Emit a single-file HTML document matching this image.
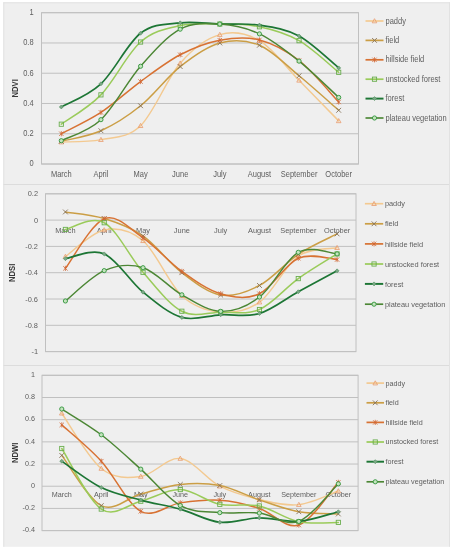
<!DOCTYPE html>
<html><head><meta charset="utf-8"><style>html,body{margin:0;padding:0;background:#fff;width:453px;height:550px;overflow:hidden}</style></head><body>
<div style="will-change:transform">
<svg width="453" height="550" viewBox="0 0 453 550" style="display:block">
<rect x="0" y="0" width="453" height="550" fill="#FFFFFF"/>
<rect x="3.3" y="2.3" width="446.7" height="544.5" fill="#EFEFEF"/>
<path d="M3.3,184.5 H450 M3.3,365.5 H450" stroke="#DCDCDC" stroke-width="1" fill="none"/>
<path d="M3.8,2.3 V546.8 M3.3,2.8 H450 M449.5,2.3 V546.8" stroke="#E2E2E2" stroke-width="1" fill="none"/>
<line x1="41.5" y1="12.70" x2="358.5" y2="12.70" stroke="#C0C0C0" stroke-width="1"/>
<text transform="translate(33.60,15.00) scale(0.915,1)" text-anchor="end" font-family='"Liberation Sans", sans-serif' font-size="8.2" fill="#5E5E5E" >1</text>
<line x1="41.5" y1="42.96" x2="358.5" y2="42.96" stroke="#C0C0C0" stroke-width="1"/>
<text transform="translate(33.60,45.26) scale(0.915,1)" text-anchor="end" font-family='"Liberation Sans", sans-serif' font-size="8.2" fill="#5E5E5E" >0.8</text>
<line x1="41.5" y1="73.22" x2="358.5" y2="73.22" stroke="#C0C0C0" stroke-width="1"/>
<text transform="translate(33.60,75.52) scale(0.915,1)" text-anchor="end" font-family='"Liberation Sans", sans-serif' font-size="8.2" fill="#5E5E5E" >0.6</text>
<line x1="41.5" y1="103.48" x2="358.5" y2="103.48" stroke="#C0C0C0" stroke-width="1"/>
<text transform="translate(33.60,105.78) scale(0.915,1)" text-anchor="end" font-family='"Liberation Sans", sans-serif' font-size="8.2" fill="#5E5E5E" >0.4</text>
<line x1="41.5" y1="133.74" x2="358.5" y2="133.74" stroke="#C0C0C0" stroke-width="1"/>
<text transform="translate(33.60,136.04) scale(0.915,1)" text-anchor="end" font-family='"Liberation Sans", sans-serif' font-size="8.2" fill="#5E5E5E" >0.2</text>
<line x1="41.5" y1="164.00" x2="358.5" y2="164.00" stroke="#C0C0C0" stroke-width="1"/>
<text transform="translate(33.60,166.30) scale(0.915,1)" text-anchor="end" font-family='"Liberation Sans", sans-serif' font-size="8.2" fill="#5E5E5E" >0</text>
<rect x="41.5" y="12.7" width="317.00" height="151.30" fill="none" stroke="#C0C0C0" stroke-width="1"/>
<text transform="translate(61.31,177.00) scale(0.915,1)" text-anchor="middle" font-family='"Liberation Sans", sans-serif' font-size="8.2" fill="#5E5E5E" >March</text>
<text transform="translate(100.94,177.00) scale(0.915,1)" text-anchor="middle" font-family='"Liberation Sans", sans-serif' font-size="8.2" fill="#5E5E5E" >April</text>
<text transform="translate(140.56,177.00) scale(0.915,1)" text-anchor="middle" font-family='"Liberation Sans", sans-serif' font-size="8.2" fill="#5E5E5E" >May</text>
<text transform="translate(180.19,177.00) scale(0.915,1)" text-anchor="middle" font-family='"Liberation Sans", sans-serif' font-size="8.2" fill="#5E5E5E" >June</text>
<text transform="translate(219.81,177.00) scale(0.915,1)" text-anchor="middle" font-family='"Liberation Sans", sans-serif' font-size="8.2" fill="#5E5E5E" >July</text>
<text transform="translate(259.44,177.00) scale(0.915,1)" text-anchor="middle" font-family='"Liberation Sans", sans-serif' font-size="8.2" fill="#5E5E5E" >August</text>
<text transform="translate(299.06,177.00) scale(0.915,1)" text-anchor="middle" font-family='"Liberation Sans", sans-serif' font-size="8.2" fill="#5E5E5E" >September</text>
<text transform="translate(338.69,177.00) scale(0.915,1)" text-anchor="middle" font-family='"Liberation Sans", sans-serif' font-size="8.2" fill="#5E5E5E" >October</text>
<text transform="translate(18.4,88.3) rotate(-90) scale(0.89,1)" text-anchor="middle" font-family='"Liberation Sans", sans-serif' font-size="8.6" font-weight="bold" fill="#383838">NDVI</text>
<path d="M61.31,142.06 C67.92,141.66 87.73,142.36 100.94,139.64 C114.15,136.92 127.35,138.46 140.56,125.72 C153.77,112.99 166.98,78.41 180.19,63.23 C193.40,48.05 206.60,38.40 219.81,34.64 C233.02,30.88 246.23,33.08 259.44,40.69 C272.65,48.31 285.85,66.97 299.06,80.33 C312.27,93.70 332.08,114.12 338.69,120.88" fill="none" stroke="#F3C990" stroke-width="1.45" stroke-linecap="round" stroke-linejoin="round"/>
<path d="M61.31,139.76 L63.61,143.86 L59.01,143.86 Z" fill="none" stroke="#E99A6C" stroke-width="0.8"/>
<path d="M100.94,137.34 L103.24,141.44 L98.64,141.44 Z" fill="none" stroke="#E99A6C" stroke-width="0.8"/>
<path d="M140.56,123.42 L142.86,127.52 L138.26,127.52 Z" fill="none" stroke="#E99A6C" stroke-width="0.8"/>
<path d="M180.19,60.93 L182.49,65.03 L177.89,65.03 Z" fill="none" stroke="#E99A6C" stroke-width="0.8"/>
<path d="M219.81,32.34 L222.11,36.44 L217.51,36.44 Z" fill="none" stroke="#E99A6C" stroke-width="0.8"/>
<path d="M259.44,38.39 L261.74,42.49 L257.14,42.49 Z" fill="none" stroke="#E99A6C" stroke-width="0.8"/>
<path d="M299.06,78.03 L301.36,82.13 L296.76,82.13 Z" fill="none" stroke="#E99A6C" stroke-width="0.8"/>
<path d="M338.69,118.58 L340.99,122.68 L336.39,122.68 Z" fill="none" stroke="#E99A6C" stroke-width="0.8"/>
<path d="M61.31,141.31 C67.92,139.54 87.73,136.64 100.94,130.71 C114.15,124.79 127.35,116.44 140.56,105.75 C153.77,95.06 166.98,77.03 180.19,66.56 C193.40,56.10 206.60,46.52 219.81,42.96 C233.02,39.40 246.23,39.76 259.44,45.23 C272.65,50.70 285.85,64.95 299.06,75.79 C312.27,86.64 332.08,104.54 338.69,110.29" fill="none" stroke="#CB9E45" stroke-width="1.5" stroke-linecap="round" stroke-linejoin="round"/>
<path d="M58.91,138.91 L63.71,143.71 M63.71,138.91 L58.91,143.71" stroke="#857258" stroke-width="0.9"/>
<path d="M98.54,128.31 L103.34,133.11 M103.34,128.31 L98.54,133.11" stroke="#857258" stroke-width="0.9"/>
<path d="M138.16,103.35 L142.96,108.15 M142.96,103.35 L138.16,108.15" stroke="#857258" stroke-width="0.9"/>
<path d="M177.79,64.16 L182.59,68.96 M182.59,64.16 L177.79,68.96" stroke="#857258" stroke-width="0.9"/>
<path d="M217.41,40.56 L222.21,45.36 M222.21,40.56 L217.41,45.36" stroke="#857258" stroke-width="0.9"/>
<path d="M257.04,42.83 L261.84,47.63 M261.84,42.83 L257.04,47.63" stroke="#857258" stroke-width="0.9"/>
<path d="M296.66,73.39 L301.46,78.19 M301.46,73.39 L296.66,78.19" stroke="#857258" stroke-width="0.9"/>
<path d="M336.29,107.89 L341.09,112.69 M341.09,107.89 L336.29,112.69" stroke="#857258" stroke-width="0.9"/>
<path d="M61.31,133.74 C67.92,130.18 87.73,121.11 100.94,112.41 C114.15,103.71 127.35,91.15 140.56,81.54 C153.77,71.93 166.98,61.65 180.19,54.76 C193.40,47.88 206.60,42.71 219.81,40.24 C233.02,37.77 246.23,36.55 259.44,39.93 C272.65,43.31 285.85,50.17 299.06,60.51 C312.27,70.85 332.08,95.06 338.69,101.97" fill="none" stroke="#D87233" stroke-width="1.5" stroke-linecap="round" stroke-linejoin="round"/>
<path d="M59.11,131.54 L63.51,135.94 M63.51,131.54 L59.11,135.94 M61.31,131.14 L61.31,136.34" stroke="#D06633" stroke-width="0.8"/>
<path d="M98.74,110.21 L103.14,114.61 M103.14,110.21 L98.74,114.61 M100.94,109.81 L100.94,115.01" stroke="#D06633" stroke-width="0.8"/>
<path d="M138.36,79.34 L142.76,83.74 M142.76,79.34 L138.36,83.74 M140.56,78.94 L140.56,84.14" stroke="#D06633" stroke-width="0.8"/>
<path d="M177.99,52.56 L182.39,56.96 M182.39,52.56 L177.99,56.96 M180.19,52.16 L180.19,57.36" stroke="#D06633" stroke-width="0.8"/>
<path d="M217.61,38.04 L222.01,42.44 M222.01,38.04 L217.61,42.44 M219.81,37.64 L219.81,42.84" stroke="#D06633" stroke-width="0.8"/>
<path d="M257.24,37.73 L261.64,42.13 M261.64,37.73 L257.24,42.13 M259.44,37.33 L259.44,42.53" stroke="#D06633" stroke-width="0.8"/>
<path d="M296.86,58.31 L301.26,62.71 M301.26,58.31 L296.86,62.71 M299.06,57.91 L299.06,63.11" stroke="#D06633" stroke-width="0.8"/>
<path d="M336.49,99.77 L340.89,104.17 M340.89,99.77 L336.49,104.17 M338.69,99.37 L338.69,104.57" stroke="#D06633" stroke-width="0.8"/>
<path d="M61.31,124.21 C67.92,119.32 87.73,108.55 100.94,94.86 C114.15,81.16 127.35,53.60 140.56,42.05 C153.77,30.50 166.98,28.56 180.19,25.56 C193.40,22.56 206.60,23.85 219.81,24.05 C233.02,24.25 246.23,24.00 259.44,26.77 C272.65,29.54 285.85,33.10 299.06,40.69 C312.27,48.28 332.08,67.04 338.69,72.31" fill="none" stroke="#9ACB5A" stroke-width="1.5" stroke-linecap="round" stroke-linejoin="round"/>
<rect x="59.21" y="122.11" width="4.2" height="4.2" fill="none" stroke="#6AAE4E" stroke-width="0.9"/>
<rect x="98.84" y="92.76" width="4.2" height="4.2" fill="none" stroke="#6AAE4E" stroke-width="0.9"/>
<rect x="138.46" y="39.95" width="4.2" height="4.2" fill="none" stroke="#6AAE4E" stroke-width="0.9"/>
<rect x="178.09" y="23.46" width="4.2" height="4.2" fill="none" stroke="#6AAE4E" stroke-width="0.9"/>
<rect x="217.71" y="21.95" width="4.2" height="4.2" fill="none" stroke="#6AAE4E" stroke-width="0.9"/>
<rect x="257.34" y="24.67" width="4.2" height="4.2" fill="none" stroke="#6AAE4E" stroke-width="0.9"/>
<rect x="296.96" y="38.59" width="4.2" height="4.2" fill="none" stroke="#6AAE4E" stroke-width="0.9"/>
<rect x="336.59" y="70.21" width="4.2" height="4.2" fill="none" stroke="#6AAE4E" stroke-width="0.9"/>
<path d="M61.31,106.96 C67.92,103.10 87.73,96.09 100.94,83.81 C114.15,71.53 127.35,43.44 140.56,33.28 C153.77,23.11 166.98,24.38 180.19,22.84 C193.40,21.30 206.60,23.67 219.81,24.05 C233.02,24.43 246.23,23.11 259.44,25.11 C272.65,27.10 285.85,28.86 299.06,36.00 C312.27,43.14 332.08,62.60 338.69,67.92" fill="none" stroke="#1D7635" stroke-width="1.7" stroke-linecap="round" stroke-linejoin="round"/>
<path d="M61.31,104.96 L63.31,106.96 L61.31,108.96 L59.31,106.96 Z" fill="#7BA886" stroke="#4F8F5E" stroke-width="0.6"/>
<path d="M100.94,81.81 L102.94,83.81 L100.94,85.81 L98.94,83.81 Z" fill="#7BA886" stroke="#4F8F5E" stroke-width="0.6"/>
<path d="M140.56,31.28 L142.56,33.28 L140.56,35.28 L138.56,33.28 Z" fill="#7BA886" stroke="#4F8F5E" stroke-width="0.6"/>
<path d="M180.19,20.84 L182.19,22.84 L180.19,24.84 L178.19,22.84 Z" fill="#7BA886" stroke="#4F8F5E" stroke-width="0.6"/>
<path d="M219.81,22.05 L221.81,24.05 L219.81,26.05 L217.81,24.05 Z" fill="#7BA886" stroke="#4F8F5E" stroke-width="0.6"/>
<path d="M259.44,23.11 L261.44,25.11 L259.44,27.11 L257.44,25.11 Z" fill="#7BA886" stroke="#4F8F5E" stroke-width="0.6"/>
<path d="M299.06,34.00 L301.06,36.00 L299.06,38.00 L297.06,36.00 Z" fill="#7BA886" stroke="#4F8F5E" stroke-width="0.6"/>
<path d="M338.69,65.92 L340.69,67.92 L338.69,69.92 L336.69,67.92 Z" fill="#7BA886" stroke="#4F8F5E" stroke-width="0.6"/>
<path d="M61.31,140.70 C67.92,137.19 87.73,132.08 100.94,119.67 C114.15,107.26 127.35,81.34 140.56,66.26 C153.77,51.18 166.98,36.23 180.19,29.19 C193.40,22.16 206.60,23.27 219.81,24.05 C233.02,24.83 246.23,27.70 259.44,33.88 C272.65,40.06 285.85,50.52 299.06,61.12 C312.27,71.71 332.08,91.38 338.69,97.43" fill="none" stroke="#4C8735" stroke-width="1.45" stroke-linecap="round" stroke-linejoin="round"/>
<circle cx="61.31" cy="140.70" r="2.1" fill="#C5E3BE" stroke="#2F943A" stroke-width="0.9"/>
<circle cx="100.94" cy="119.67" r="2.1" fill="#C5E3BE" stroke="#2F943A" stroke-width="0.9"/>
<circle cx="140.56" cy="66.26" r="2.1" fill="#C5E3BE" stroke="#2F943A" stroke-width="0.9"/>
<circle cx="180.19" cy="29.19" r="2.1" fill="#C5E3BE" stroke="#2F943A" stroke-width="0.9"/>
<circle cx="219.81" cy="24.05" r="2.1" fill="#C5E3BE" stroke="#2F943A" stroke-width="0.9"/>
<circle cx="259.44" cy="33.88" r="2.1" fill="#C5E3BE" stroke="#2F943A" stroke-width="0.9"/>
<circle cx="299.06" cy="61.12" r="2.1" fill="#C5E3BE" stroke="#2F943A" stroke-width="0.9"/>
<circle cx="338.69" cy="97.43" r="2.1" fill="#C5E3BE" stroke="#2F943A" stroke-width="0.9"/>
<line x1="365.5" y1="21" x2="383.5" y2="21" stroke="#F3C990" stroke-width="1.67"/>
<g transform="translate(0,0)"><path d="M374.50,18.70 L376.80,22.80 L372.20,22.80 Z" fill="none" stroke="#E99A6C" stroke-width="0.8"/></g>
<text transform="translate(385.50,23.50) scale(0.915,1)" text-anchor="start" font-family='"Liberation Sans", sans-serif' font-size="8.2" fill="#5E5E5E" >paddy</text>
<line x1="365.5" y1="40.4" x2="383.5" y2="40.4" stroke="#CB9E45" stroke-width="1.72"/>
<g transform="translate(0,0)"><path d="M372.10,38.00 L376.90,42.80 M376.90,38.00 L372.10,42.80" stroke="#857258" stroke-width="0.9"/></g>
<text transform="translate(385.50,42.90) scale(0.915,1)" text-anchor="start" font-family='"Liberation Sans", sans-serif' font-size="8.2" fill="#5E5E5E" >field</text>
<line x1="365.5" y1="59.8" x2="383.5" y2="59.8" stroke="#D87233" stroke-width="1.72"/>
<g transform="translate(0,0)"><path d="M372.30,57.60 L376.70,62.00 M376.70,57.60 L372.30,62.00 M374.50,57.20 L374.50,62.40" stroke="#D06633" stroke-width="0.8"/></g>
<text transform="translate(385.50,62.30) scale(0.915,1)" text-anchor="start" font-family='"Liberation Sans", sans-serif' font-size="8.2" fill="#5E5E5E" >hillside field</text>
<line x1="365.5" y1="79.2" x2="383.5" y2="79.2" stroke="#9ACB5A" stroke-width="1.72"/>
<g transform="translate(0,0)"><rect x="372.40" y="77.10" width="4.2" height="4.2" fill="none" stroke="#6AAE4E" stroke-width="0.9"/></g>
<text transform="translate(385.50,81.70) scale(0.915,1)" text-anchor="start" font-family='"Liberation Sans", sans-serif' font-size="8.2" fill="#5E5E5E" >unstocked forest</text>
<line x1="365.5" y1="98.6" x2="383.5" y2="98.6" stroke="#1D7635" stroke-width="1.95"/>
<g transform="translate(0,0)"><path d="M374.50,96.60 L376.50,98.60 L374.50,100.60 L372.50,98.60 Z" fill="#7BA886" stroke="#4F8F5E" stroke-width="0.6"/></g>
<text transform="translate(385.50,101.10) scale(0.915,1)" text-anchor="start" font-family='"Liberation Sans", sans-serif' font-size="8.2" fill="#5E5E5E" >forest</text>
<line x1="365.5" y1="118.0" x2="383.5" y2="118.0" stroke="#4C8735" stroke-width="1.67"/>
<g transform="translate(0,0)"><circle cx="374.50" cy="118.00" r="2.1" fill="#C5E3BE" stroke="#2F943A" stroke-width="0.9"/></g>
<text transform="translate(385.50,120.50) scale(0.915,1)" text-anchor="start" font-family='"Liberation Sans", sans-serif' font-size="8.2" fill="#5E5E5E" >plateau vegetation</text>
<line x1="45.5" y1="193.80" x2="356.0" y2="193.80" stroke="#C0C0C0" stroke-width="1"/>
<text transform="translate(38.00,196.40) scale(1.0,1)" text-anchor="end" font-family='"Liberation Sans", sans-serif' font-size="7.4" fill="#5E5E5E" >0.2</text>
<line x1="45.5" y1="220.10" x2="356.0" y2="220.10" stroke="#C0C0C0" stroke-width="1"/>
<text transform="translate(38.00,222.70) scale(1.0,1)" text-anchor="end" font-family='"Liberation Sans", sans-serif' font-size="7.4" fill="#5E5E5E" >0</text>
<line x1="45.5" y1="246.40" x2="356.0" y2="246.40" stroke="#C0C0C0" stroke-width="1"/>
<text transform="translate(38.00,249.00) scale(1.0,1)" text-anchor="end" font-family='"Liberation Sans", sans-serif' font-size="7.4" fill="#5E5E5E" >-0.2</text>
<line x1="45.5" y1="272.70" x2="356.0" y2="272.70" stroke="#C0C0C0" stroke-width="1"/>
<text transform="translate(38.00,275.30) scale(1.0,1)" text-anchor="end" font-family='"Liberation Sans", sans-serif' font-size="7.4" fill="#5E5E5E" >-0.4</text>
<line x1="45.5" y1="299.00" x2="356.0" y2="299.00" stroke="#C0C0C0" stroke-width="1"/>
<text transform="translate(38.00,301.60) scale(1.0,1)" text-anchor="end" font-family='"Liberation Sans", sans-serif' font-size="7.4" fill="#5E5E5E" >-0.6</text>
<line x1="45.5" y1="325.30" x2="356.0" y2="325.30" stroke="#C0C0C0" stroke-width="1"/>
<text transform="translate(38.00,327.90) scale(1.0,1)" text-anchor="end" font-family='"Liberation Sans", sans-serif' font-size="7.4" fill="#5E5E5E" >-0.8</text>
<line x1="45.5" y1="351.60" x2="356.0" y2="351.60" stroke="#C0C0C0" stroke-width="1"/>
<text transform="translate(38.00,354.20) scale(1.0,1)" text-anchor="end" font-family='"Liberation Sans", sans-serif' font-size="7.4" fill="#5E5E5E" >-1</text>
<rect x="45.5" y="193.8" width="310.50" height="157.80" fill="none" stroke="#C0C0C0" stroke-width="1"/>
<text transform="translate(65.41,232.80) scale(1.0,1)" text-anchor="middle" font-family='"Liberation Sans", sans-serif' font-size="7.4" fill="#5E5E5E" >March</text>
<text transform="translate(104.22,232.80) scale(1.0,1)" text-anchor="middle" font-family='"Liberation Sans", sans-serif' font-size="7.4" fill="#5E5E5E" >April</text>
<text transform="translate(143.03,232.80) scale(1.0,1)" text-anchor="middle" font-family='"Liberation Sans", sans-serif' font-size="7.4" fill="#5E5E5E" >May</text>
<text transform="translate(181.84,232.80) scale(1.0,1)" text-anchor="middle" font-family='"Liberation Sans", sans-serif' font-size="7.4" fill="#5E5E5E" >June</text>
<text transform="translate(220.66,232.80) scale(1.0,1)" text-anchor="middle" font-family='"Liberation Sans", sans-serif' font-size="7.4" fill="#5E5E5E" >July</text>
<text transform="translate(259.47,232.80) scale(1.0,1)" text-anchor="middle" font-family='"Liberation Sans", sans-serif' font-size="7.4" fill="#5E5E5E" >August</text>
<text transform="translate(298.28,232.80) scale(1.0,1)" text-anchor="middle" font-family='"Liberation Sans", sans-serif' font-size="7.4" fill="#5E5E5E" >September</text>
<text transform="translate(337.09,232.80) scale(1.0,1)" text-anchor="middle" font-family='"Liberation Sans", sans-serif' font-size="7.4" fill="#5E5E5E" >October</text>
<text transform="translate(14.9,272.8) rotate(-90) scale(0.89,1)" text-anchor="middle" font-family='"Liberation Sans", sans-serif' font-size="8.6" font-weight="bold" fill="#383838">NDSI</text>
<path d="M65.41,256.53 C71.88,252.10 91.28,232.59 104.22,229.96 C117.16,227.33 130.09,229.79 143.03,240.75 C155.97,251.70 168.91,283.81 181.84,295.71 C194.78,307.61 207.72,311.08 220.66,312.15 C233.59,313.22 246.53,311.47 259.47,302.16 C272.41,292.84 285.34,265.34 298.28,256.26 C311.22,247.19 330.62,249.14 337.09,247.72" fill="none" stroke="#F3C990" stroke-width="1.45" stroke-linecap="round" stroke-linejoin="round"/>
<path d="M65.41,254.23 L67.71,258.33 L63.11,258.33 Z" fill="none" stroke="#E99A6C" stroke-width="0.8"/>
<path d="M104.22,227.66 L106.52,231.76 L101.92,231.76 Z" fill="none" stroke="#E99A6C" stroke-width="0.8"/>
<path d="M143.03,238.45 L145.33,242.55 L140.73,242.55 Z" fill="none" stroke="#E99A6C" stroke-width="0.8"/>
<path d="M181.84,293.41 L184.14,297.51 L179.54,297.51 Z" fill="none" stroke="#E99A6C" stroke-width="0.8"/>
<path d="M220.66,309.85 L222.96,313.95 L218.36,313.95 Z" fill="none" stroke="#E99A6C" stroke-width="0.8"/>
<path d="M259.47,299.86 L261.77,303.96 L257.17,303.96 Z" fill="none" stroke="#E99A6C" stroke-width="0.8"/>
<path d="M298.28,253.96 L300.58,258.06 L295.98,258.06 Z" fill="none" stroke="#E99A6C" stroke-width="0.8"/>
<path d="M337.09,245.42 L339.39,249.52 L334.79,249.52 Z" fill="none" stroke="#E99A6C" stroke-width="0.8"/>
<path d="M65.41,211.95 C71.88,213.04 91.28,214.53 104.22,218.52 C117.16,222.51 130.09,226.85 143.03,235.88 C155.97,244.91 168.91,262.84 181.84,272.70 C194.78,282.56 207.72,292.93 220.66,295.06 C233.59,297.18 246.53,292.25 259.47,285.46 C272.41,278.66 285.34,262.88 298.28,254.29 C311.22,245.70 330.62,237.30 337.09,233.91" fill="none" stroke="#CB9E45" stroke-width="1.5" stroke-linecap="round" stroke-linejoin="round"/>
<path d="M63.01,209.55 L67.81,214.35 M67.81,209.55 L63.01,214.35" stroke="#857258" stroke-width="0.9"/>
<path d="M101.82,216.12 L106.62,220.92 M106.62,216.12 L101.82,220.92" stroke="#857258" stroke-width="0.9"/>
<path d="M140.63,233.48 L145.43,238.28 M145.43,233.48 L140.63,238.28" stroke="#857258" stroke-width="0.9"/>
<path d="M179.44,270.30 L184.24,275.10 M184.24,270.30 L179.44,275.10" stroke="#857258" stroke-width="0.9"/>
<path d="M218.26,292.66 L223.06,297.45 M223.06,292.66 L218.26,297.45" stroke="#857258" stroke-width="0.9"/>
<path d="M257.07,283.06 L261.87,287.86 M261.87,283.06 L257.07,287.86" stroke="#857258" stroke-width="0.9"/>
<path d="M295.88,251.89 L300.68,256.69 M300.68,251.89 L295.88,256.69" stroke="#857258" stroke-width="0.9"/>
<path d="M334.69,231.51 L339.49,236.31 M339.49,231.51 L334.69,236.31" stroke="#857258" stroke-width="0.9"/>
<path d="M65.41,268.36 C71.88,260.10 91.28,223.87 104.22,218.79 C117.16,213.70 130.09,229.09 143.03,237.85 C155.97,246.62 168.91,262.07 181.84,271.39 C194.78,280.70 207.72,290.01 220.66,293.74 C233.59,297.47 246.53,299.66 259.47,293.74 C272.41,287.82 285.34,263.93 298.28,258.24 C311.22,252.54 330.62,259.33 337.09,259.55" fill="none" stroke="#D87233" stroke-width="1.5" stroke-linecap="round" stroke-linejoin="round"/>
<path d="M63.21,266.16 L67.61,270.56 M67.61,266.16 L63.21,270.56 M65.41,265.76 L65.41,270.96" stroke="#D06633" stroke-width="0.8"/>
<path d="M102.02,216.59 L106.42,220.99 M106.42,216.59 L102.02,220.99 M104.22,216.19 L104.22,221.39" stroke="#D06633" stroke-width="0.8"/>
<path d="M140.83,235.65 L145.23,240.05 M145.23,235.65 L140.83,240.05 M143.03,235.25 L143.03,240.45" stroke="#D06633" stroke-width="0.8"/>
<path d="M179.64,269.19 L184.04,273.59 M184.04,269.19 L179.64,273.59 M181.84,268.79 L181.84,273.99" stroke="#D06633" stroke-width="0.8"/>
<path d="M218.46,291.54 L222.86,295.94 M222.86,291.54 L218.46,295.94 M220.66,291.14 L220.66,296.34" stroke="#D06633" stroke-width="0.8"/>
<path d="M257.27,291.54 L261.67,295.94 M261.67,291.54 L257.27,295.94 M259.47,291.14 L259.47,296.34" stroke="#D06633" stroke-width="0.8"/>
<path d="M296.08,256.04 L300.48,260.44 M300.48,256.04 L296.08,260.44 M298.28,255.64 L298.28,260.84" stroke="#D06633" stroke-width="0.8"/>
<path d="M334.89,257.35 L339.29,261.75 M339.29,257.35 L334.89,261.75 M337.09,256.95 L337.09,262.15" stroke="#D06633" stroke-width="0.8"/>
<path d="M65.41,229.44 C71.88,228.32 91.28,215.59 104.22,222.73 C117.16,229.87 130.09,257.56 143.03,272.31 C155.97,287.06 168.91,304.59 181.84,311.23 C194.78,317.87 207.72,312.43 220.66,312.15 C233.59,311.87 246.53,315.11 259.47,309.52 C272.41,303.93 285.34,287.89 298.28,278.62 C311.22,269.35 330.62,258.02 337.09,253.90" fill="none" stroke="#9ACB5A" stroke-width="1.5" stroke-linecap="round" stroke-linejoin="round"/>
<rect x="63.31" y="227.34" width="4.2" height="4.2" fill="none" stroke="#6AAE4E" stroke-width="0.9"/>
<rect x="102.12" y="220.63" width="4.2" height="4.2" fill="none" stroke="#6AAE4E" stroke-width="0.9"/>
<rect x="140.93" y="270.21" width="4.2" height="4.2" fill="none" stroke="#6AAE4E" stroke-width="0.9"/>
<rect x="179.74" y="309.13" width="4.2" height="4.2" fill="none" stroke="#6AAE4E" stroke-width="0.9"/>
<rect x="218.56" y="310.05" width="4.2" height="4.2" fill="none" stroke="#6AAE4E" stroke-width="0.9"/>
<rect x="257.37" y="307.42" width="4.2" height="4.2" fill="none" stroke="#6AAE4E" stroke-width="0.9"/>
<rect x="296.18" y="276.52" width="4.2" height="4.2" fill="none" stroke="#6AAE4E" stroke-width="0.9"/>
<rect x="334.99" y="251.80" width="4.2" height="4.2" fill="none" stroke="#6AAE4E" stroke-width="0.9"/>
<path d="M65.41,258.63 C71.88,257.84 91.28,248.31 104.22,253.90 C117.16,259.48 130.09,281.58 143.03,292.16 C155.97,302.75 168.91,313.64 181.84,317.41 C194.78,321.18 207.72,315.44 220.66,314.78 C233.59,314.12 246.53,317.30 259.47,313.47 C272.41,309.63 285.34,298.87 298.28,291.77 C311.22,284.67 330.62,274.34 337.09,270.86" fill="none" stroke="#1D7635" stroke-width="1.7" stroke-linecap="round" stroke-linejoin="round"/>
<path d="M65.41,256.63 L67.41,258.63 L65.41,260.63 L63.41,258.63 Z" fill="#7BA886" stroke="#4F8F5E" stroke-width="0.6"/>
<path d="M104.22,251.90 L106.22,253.90 L104.22,255.90 L102.22,253.90 Z" fill="#7BA886" stroke="#4F8F5E" stroke-width="0.6"/>
<path d="M143.03,290.16 L145.03,292.16 L143.03,294.16 L141.03,292.16 Z" fill="#7BA886" stroke="#4F8F5E" stroke-width="0.6"/>
<path d="M181.84,315.41 L183.84,317.41 L181.84,319.41 L179.84,317.41 Z" fill="#7BA886" stroke="#4F8F5E" stroke-width="0.6"/>
<path d="M220.66,312.78 L222.66,314.78 L220.66,316.78 L218.66,314.78 Z" fill="#7BA886" stroke="#4F8F5E" stroke-width="0.6"/>
<path d="M259.47,311.47 L261.47,313.47 L259.47,315.47 L257.47,313.47 Z" fill="#7BA886" stroke="#4F8F5E" stroke-width="0.6"/>
<path d="M298.28,289.77 L300.28,291.77 L298.28,293.77 L296.28,291.77 Z" fill="#7BA886" stroke="#4F8F5E" stroke-width="0.6"/>
<path d="M337.09,268.86 L339.09,270.86 L337.09,272.86 L335.09,270.86 Z" fill="#7BA886" stroke="#4F8F5E" stroke-width="0.6"/>
<path d="M65.41,300.97 C71.88,295.91 91.28,276.14 104.22,270.60 C117.16,265.05 130.09,263.67 143.03,267.70 C155.97,271.74 168.91,287.52 181.84,294.79 C194.78,302.07 207.72,310.99 220.66,311.36 C233.59,311.73 246.53,306.87 259.47,297.03 C272.41,287.19 285.34,259.51 298.28,252.32 C311.22,245.13 330.62,253.63 337.09,253.90" fill="none" stroke="#4C8735" stroke-width="1.45" stroke-linecap="round" stroke-linejoin="round"/>
<circle cx="65.41" cy="300.97" r="2.1" fill="#C5E3BE" stroke="#2F943A" stroke-width="0.9"/>
<circle cx="104.22" cy="270.60" r="2.1" fill="#C5E3BE" stroke="#2F943A" stroke-width="0.9"/>
<circle cx="143.03" cy="267.70" r="2.1" fill="#C5E3BE" stroke="#2F943A" stroke-width="0.9"/>
<circle cx="181.84" cy="294.79" r="2.1" fill="#C5E3BE" stroke="#2F943A" stroke-width="0.9"/>
<circle cx="220.66" cy="311.36" r="2.1" fill="#C5E3BE" stroke="#2F943A" stroke-width="0.9"/>
<circle cx="259.47" cy="297.03" r="2.1" fill="#C5E3BE" stroke="#2F943A" stroke-width="0.9"/>
<circle cx="298.28" cy="252.32" r="2.1" fill="#C5E3BE" stroke="#2F943A" stroke-width="0.9"/>
<circle cx="337.09" cy="253.90" r="2.1" fill="#C5E3BE" stroke="#2F943A" stroke-width="0.9"/>
<line x1="364.9" y1="203.7" x2="383.2" y2="203.7" stroke="#F3C990" stroke-width="1.67"/>
<g transform="translate(0,0)"><path d="M374.05,201.40 L376.35,205.50 L371.75,205.50 Z" fill="none" stroke="#E99A6C" stroke-width="0.8"/></g>
<text transform="translate(384.90,206.30) scale(1.0,1)" text-anchor="start" font-family='"Liberation Sans", sans-serif' font-size="7.4" fill="#5E5E5E" >paddy</text>
<line x1="364.9" y1="223.8" x2="383.2" y2="223.8" stroke="#CB9E45" stroke-width="1.72"/>
<g transform="translate(0,0)"><path d="M371.65,221.40 L376.45,226.20 M376.45,221.40 L371.65,226.20" stroke="#857258" stroke-width="0.9"/></g>
<text transform="translate(384.90,226.40) scale(1.0,1)" text-anchor="start" font-family='"Liberation Sans", sans-serif' font-size="7.4" fill="#5E5E5E" >field</text>
<line x1="364.9" y1="243.9" x2="383.2" y2="243.9" stroke="#D87233" stroke-width="1.72"/>
<g transform="translate(0,0)"><path d="M371.85,241.70 L376.25,246.10 M376.25,241.70 L371.85,246.10 M374.05,241.30 L374.05,246.50" stroke="#D06633" stroke-width="0.8"/></g>
<text transform="translate(384.90,246.50) scale(1.0,1)" text-anchor="start" font-family='"Liberation Sans", sans-serif' font-size="7.4" fill="#5E5E5E" >hillside field</text>
<line x1="364.9" y1="264.0" x2="383.2" y2="264.0" stroke="#9ACB5A" stroke-width="1.72"/>
<g transform="translate(0,0)"><rect x="371.95" y="261.90" width="4.2" height="4.2" fill="none" stroke="#6AAE4E" stroke-width="0.9"/></g>
<text transform="translate(384.90,266.60) scale(1.0,1)" text-anchor="start" font-family='"Liberation Sans", sans-serif' font-size="7.4" fill="#5E5E5E" >unstocked forest</text>
<line x1="364.9" y1="283.9" x2="383.2" y2="283.9" stroke="#1D7635" stroke-width="1.95"/>
<g transform="translate(0,0)"><path d="M374.05,281.90 L376.05,283.90 L374.05,285.90 L372.05,283.90 Z" fill="#7BA886" stroke="#4F8F5E" stroke-width="0.6"/></g>
<text transform="translate(384.90,286.50) scale(1.0,1)" text-anchor="start" font-family='"Liberation Sans", sans-serif' font-size="7.4" fill="#5E5E5E" >forest</text>
<line x1="364.9" y1="304.2" x2="383.2" y2="304.2" stroke="#4C8735" stroke-width="1.67"/>
<g transform="translate(0,0)"><circle cx="374.05" cy="304.20" r="2.1" fill="#C5E3BE" stroke="#2F943A" stroke-width="0.9"/></g>
<text transform="translate(384.90,306.80) scale(1.0,1)" text-anchor="start" font-family='"Liberation Sans", sans-serif' font-size="7.4" fill="#5E5E5E" >plateau vegetation</text>
<line x1="42.0" y1="375.30" x2="358.1" y2="375.30" stroke="#C0C0C0" stroke-width="1"/>
<text transform="translate(34.90,377.00) scale(1.03,1)" text-anchor="end" font-family='"Liberation Sans", sans-serif' font-size="7.0" fill="#5E5E5E" >1</text>
<line x1="42.0" y1="397.49" x2="358.1" y2="397.49" stroke="#C0C0C0" stroke-width="1"/>
<text transform="translate(34.90,399.19) scale(1.03,1)" text-anchor="end" font-family='"Liberation Sans", sans-serif' font-size="7.0" fill="#5E5E5E" >0.8</text>
<line x1="42.0" y1="419.67" x2="358.1" y2="419.67" stroke="#C0C0C0" stroke-width="1"/>
<text transform="translate(34.90,421.37) scale(1.03,1)" text-anchor="end" font-family='"Liberation Sans", sans-serif' font-size="7.0" fill="#5E5E5E" >0.6</text>
<line x1="42.0" y1="441.86" x2="358.1" y2="441.86" stroke="#C0C0C0" stroke-width="1"/>
<text transform="translate(34.90,443.56) scale(1.03,1)" text-anchor="end" font-family='"Liberation Sans", sans-serif' font-size="7.0" fill="#5E5E5E" >0.4</text>
<line x1="42.0" y1="464.04" x2="358.1" y2="464.04" stroke="#C0C0C0" stroke-width="1"/>
<text transform="translate(34.90,465.74) scale(1.03,1)" text-anchor="end" font-family='"Liberation Sans", sans-serif' font-size="7.0" fill="#5E5E5E" >0.2</text>
<line x1="42.0" y1="486.23" x2="358.1" y2="486.23" stroke="#C0C0C0" stroke-width="1"/>
<text transform="translate(34.90,487.93) scale(1.03,1)" text-anchor="end" font-family='"Liberation Sans", sans-serif' font-size="7.0" fill="#5E5E5E" >0</text>
<line x1="42.0" y1="508.41" x2="358.1" y2="508.41" stroke="#C0C0C0" stroke-width="1"/>
<text transform="translate(34.90,510.11) scale(1.03,1)" text-anchor="end" font-family='"Liberation Sans", sans-serif' font-size="7.0" fill="#5E5E5E" >-0.2</text>
<line x1="42.0" y1="530.60" x2="358.1" y2="530.60" stroke="#C0C0C0" stroke-width="1"/>
<text transform="translate(34.90,532.30) scale(1.03,1)" text-anchor="end" font-family='"Liberation Sans", sans-serif' font-size="7.0" fill="#5E5E5E" >-0.4</text>
<rect x="42.0" y="375.3" width="316.10" height="155.30" fill="none" stroke="#C0C0C0" stroke-width="1"/>
<text transform="translate(61.76,496.60) scale(1.03,1)" text-anchor="middle" font-family='"Liberation Sans", sans-serif' font-size="7.0" fill="#5E5E5E" >March</text>
<text transform="translate(101.27,496.60) scale(1.03,1)" text-anchor="middle" font-family='"Liberation Sans", sans-serif' font-size="7.0" fill="#5E5E5E" >April</text>
<text transform="translate(140.78,496.60) scale(1.03,1)" text-anchor="middle" font-family='"Liberation Sans", sans-serif' font-size="7.0" fill="#5E5E5E" >May</text>
<text transform="translate(180.29,496.60) scale(1.03,1)" text-anchor="middle" font-family='"Liberation Sans", sans-serif' font-size="7.0" fill="#5E5E5E" >June</text>
<text transform="translate(219.81,496.60) scale(1.03,1)" text-anchor="middle" font-family='"Liberation Sans", sans-serif' font-size="7.0" fill="#5E5E5E" >July</text>
<text transform="translate(259.32,496.60) scale(1.03,1)" text-anchor="middle" font-family='"Liberation Sans", sans-serif' font-size="7.0" fill="#5E5E5E" >August</text>
<text transform="translate(298.83,496.60) scale(1.03,1)" text-anchor="middle" font-family='"Liberation Sans", sans-serif' font-size="7.0" fill="#5E5E5E" >September</text>
<text transform="translate(338.34,496.60) scale(1.03,1)" text-anchor="middle" font-family='"Liberation Sans", sans-serif' font-size="7.0" fill="#5E5E5E" >October</text>
<text transform="translate(18.2,452.8) rotate(-90) scale(0.89,1)" text-anchor="middle" font-family='"Liberation Sans", sans-serif' font-size="8.6" font-weight="bold" fill="#383838">NDWI</text>
<path d="M61.76,413.24 C68.34,422.44 88.10,457.94 101.27,468.48 C114.44,479.02 127.61,478.13 140.78,476.47 C153.95,474.80 167.12,456.87 180.29,458.50 C193.46,460.12 206.64,479.39 219.81,486.23 C232.98,493.07 246.15,496.47 259.32,499.54 C272.49,502.61 285.66,506.07 298.83,504.64 C312.00,503.22 331.76,493.27 338.34,491.00" fill="none" stroke="#F3C990" stroke-width="1.45" stroke-linecap="round" stroke-linejoin="round"/>
<path d="M61.76,410.94 L64.06,415.04 L59.46,415.04 Z" fill="none" stroke="#E99A6C" stroke-width="0.8"/>
<path d="M101.27,466.18 L103.57,470.28 L98.97,470.28 Z" fill="none" stroke="#E99A6C" stroke-width="0.8"/>
<path d="M140.78,474.17 L143.08,478.27 L138.48,478.27 Z" fill="none" stroke="#E99A6C" stroke-width="0.8"/>
<path d="M180.29,456.20 L182.59,460.30 L177.99,460.30 Z" fill="none" stroke="#E99A6C" stroke-width="0.8"/>
<path d="M219.81,483.93 L222.11,488.03 L217.51,488.03 Z" fill="none" stroke="#E99A6C" stroke-width="0.8"/>
<path d="M259.32,497.24 L261.62,501.34 L257.02,501.34 Z" fill="none" stroke="#E99A6C" stroke-width="0.8"/>
<path d="M298.83,502.34 L301.13,506.44 L296.53,506.44 Z" fill="none" stroke="#E99A6C" stroke-width="0.8"/>
<path d="M338.34,488.70 L340.64,492.80 L336.04,492.80 Z" fill="none" stroke="#E99A6C" stroke-width="0.8"/>
<path d="M61.76,455.39 C68.34,463.77 88.10,499.21 101.27,505.64 C114.44,512.07 127.61,497.52 140.78,493.99 C153.95,490.46 167.12,485.86 180.29,484.45 C193.46,483.05 206.64,482.99 219.81,485.56 C232.98,488.13 246.15,495.51 259.32,499.87 C272.49,504.24 285.66,509.39 298.83,511.74 C312.00,514.09 331.76,513.59 338.34,513.96" fill="none" stroke="#CB9E45" stroke-width="1.5" stroke-linecap="round" stroke-linejoin="round"/>
<path d="M59.36,452.99 L64.16,457.79 M64.16,452.99 L59.36,457.79" stroke="#857258" stroke-width="0.9"/>
<path d="M98.87,503.24 L103.67,508.04 M103.67,503.24 L98.87,508.04" stroke="#857258" stroke-width="0.9"/>
<path d="M138.38,491.59 L143.18,496.39 M143.18,491.59 L138.38,496.39" stroke="#857258" stroke-width="0.9"/>
<path d="M177.89,482.05 L182.69,486.85 M182.69,482.05 L177.89,486.85" stroke="#857258" stroke-width="0.9"/>
<path d="M217.41,483.16 L222.21,487.96 M222.21,483.16 L217.41,487.96" stroke="#857258" stroke-width="0.9"/>
<path d="M256.92,497.47 L261.72,502.27 M261.72,497.47 L256.92,502.27" stroke="#857258" stroke-width="0.9"/>
<path d="M296.43,509.34 L301.23,514.14 M301.23,509.34 L296.43,514.14" stroke="#857258" stroke-width="0.9"/>
<path d="M335.94,511.56 L340.74,516.36 M340.74,511.56 L335.94,516.36" stroke="#857258" stroke-width="0.9"/>
<path d="M61.76,424.89 C68.34,430.93 88.10,446.76 101.27,461.16 C114.44,475.56 127.61,504.35 140.78,511.30 C153.95,518.25 167.12,504.72 180.29,502.87 C193.46,501.02 206.64,499.28 219.81,500.21 C232.98,501.13 246.15,504.27 259.32,508.41 C272.49,512.56 285.66,529.40 298.83,525.05 C312.00,520.71 331.76,489.46 338.34,482.35" fill="none" stroke="#D87233" stroke-width="1.5" stroke-linecap="round" stroke-linejoin="round"/>
<path d="M59.56,422.69 L63.96,427.09 M63.96,422.69 L59.56,427.09 M61.76,422.29 L61.76,427.49" stroke="#D06633" stroke-width="0.8"/>
<path d="M99.07,458.96 L103.47,463.36 M103.47,458.96 L99.07,463.36 M101.27,458.56 L101.27,463.76" stroke="#D06633" stroke-width="0.8"/>
<path d="M138.58,509.10 L142.98,513.50 M142.98,509.10 L138.58,513.50 M140.78,508.70 L140.78,513.90" stroke="#D06633" stroke-width="0.8"/>
<path d="M178.09,500.67 L182.49,505.07 M182.49,500.67 L178.09,505.07 M180.29,500.27 L180.29,505.47" stroke="#D06633" stroke-width="0.8"/>
<path d="M217.61,498.01 L222.01,502.41 M222.01,498.01 L217.61,502.41 M219.81,497.61 L219.81,502.81" stroke="#D06633" stroke-width="0.8"/>
<path d="M257.12,506.21 L261.52,510.61 M261.52,506.21 L257.12,510.61 M259.32,505.81 L259.32,511.01" stroke="#D06633" stroke-width="0.8"/>
<path d="M296.63,522.85 L301.03,527.25 M301.03,522.85 L296.63,527.25 M298.83,522.45 L298.83,527.65" stroke="#D06633" stroke-width="0.8"/>
<path d="M336.14,480.15 L340.54,484.55 M340.54,480.15 L336.14,484.55 M338.34,479.75 L338.34,484.95" stroke="#D06633" stroke-width="0.8"/>
<path d="M61.76,448.51 C68.34,458.61 88.10,500.30 101.27,509.08 C114.44,517.86 127.61,504.46 140.78,501.20 C153.95,497.95 167.12,489.04 180.29,489.56 C193.46,490.07 206.64,501.57 219.81,504.31 C232.98,507.05 246.15,503.07 259.32,505.97 C272.49,508.88 285.66,518.99 298.83,521.73 C312.00,524.46 331.76,522.28 338.34,522.39" fill="none" stroke="#9ACB5A" stroke-width="1.5" stroke-linecap="round" stroke-linejoin="round"/>
<rect x="59.66" y="446.41" width="4.2" height="4.2" fill="none" stroke="#6AAE4E" stroke-width="0.9"/>
<rect x="99.17" y="506.98" width="4.2" height="4.2" fill="none" stroke="#6AAE4E" stroke-width="0.9"/>
<rect x="138.68" y="499.10" width="4.2" height="4.2" fill="none" stroke="#6AAE4E" stroke-width="0.9"/>
<rect x="178.19" y="487.46" width="4.2" height="4.2" fill="none" stroke="#6AAE4E" stroke-width="0.9"/>
<rect x="217.71" y="502.21" width="4.2" height="4.2" fill="none" stroke="#6AAE4E" stroke-width="0.9"/>
<rect x="257.22" y="503.87" width="4.2" height="4.2" fill="none" stroke="#6AAE4E" stroke-width="0.9"/>
<rect x="296.73" y="519.63" width="4.2" height="4.2" fill="none" stroke="#6AAE4E" stroke-width="0.9"/>
<rect x="336.24" y="520.29" width="4.2" height="4.2" fill="none" stroke="#6AAE4E" stroke-width="0.9"/>
<path d="M61.76,461.16 C68.34,465.56 88.10,481.07 101.27,487.56 C114.44,494.05 127.61,496.49 140.78,500.09 C153.95,503.70 167.12,505.49 180.29,509.19 C193.46,512.89 206.64,520.84 219.81,522.28 C232.98,523.72 246.15,517.99 259.32,517.84 C272.49,517.70 285.66,522.41 298.83,521.39 C312.00,520.38 331.76,513.35 338.34,511.74" fill="none" stroke="#1D7635" stroke-width="1.7" stroke-linecap="round" stroke-linejoin="round"/>
<path d="M61.76,459.16 L63.76,461.16 L61.76,463.16 L59.76,461.16 Z" fill="#7BA886" stroke="#4F8F5E" stroke-width="0.6"/>
<path d="M101.27,485.56 L103.27,487.56 L101.27,489.56 L99.27,487.56 Z" fill="#7BA886" stroke="#4F8F5E" stroke-width="0.6"/>
<path d="M140.78,498.09 L142.78,500.09 L140.78,502.09 L138.78,500.09 Z" fill="#7BA886" stroke="#4F8F5E" stroke-width="0.6"/>
<path d="M180.29,507.19 L182.29,509.19 L180.29,511.19 L178.29,509.19 Z" fill="#7BA886" stroke="#4F8F5E" stroke-width="0.6"/>
<path d="M219.81,520.28 L221.81,522.28 L219.81,524.28 L217.81,522.28 Z" fill="#7BA886" stroke="#4F8F5E" stroke-width="0.6"/>
<path d="M259.32,515.84 L261.32,517.84 L259.32,519.84 L257.32,517.84 Z" fill="#7BA886" stroke="#4F8F5E" stroke-width="0.6"/>
<path d="M298.83,519.39 L300.83,521.39 L298.83,523.39 L296.83,521.39 Z" fill="#7BA886" stroke="#4F8F5E" stroke-width="0.6"/>
<path d="M338.34,509.74 L340.34,511.74 L338.34,513.74 L336.34,511.74 Z" fill="#7BA886" stroke="#4F8F5E" stroke-width="0.6"/>
<path d="M61.76,409.02 C68.34,413.31 88.10,424.74 101.27,434.76 C114.44,444.78 127.61,457.35 140.78,469.15 C153.95,480.94 167.12,498.28 180.29,505.53 C193.46,512.78 206.64,511.37 219.81,512.63 C232.98,513.89 246.15,511.61 259.32,513.07 C272.49,514.53 285.66,526.27 298.83,521.39 C312.00,516.51 331.76,490.06 338.34,483.79" fill="none" stroke="#4C8735" stroke-width="1.45" stroke-linecap="round" stroke-linejoin="round"/>
<circle cx="61.76" cy="409.02" r="2.1" fill="#C5E3BE" stroke="#2F943A" stroke-width="0.9"/>
<circle cx="101.27" cy="434.76" r="2.1" fill="#C5E3BE" stroke="#2F943A" stroke-width="0.9"/>
<circle cx="140.78" cy="469.15" r="2.1" fill="#C5E3BE" stroke="#2F943A" stroke-width="0.9"/>
<circle cx="180.29" cy="505.53" r="2.1" fill="#C5E3BE" stroke="#2F943A" stroke-width="0.9"/>
<circle cx="219.81" cy="512.63" r="2.1" fill="#C5E3BE" stroke="#2F943A" stroke-width="0.9"/>
<circle cx="259.32" cy="513.07" r="2.1" fill="#C5E3BE" stroke="#2F943A" stroke-width="0.9"/>
<circle cx="298.83" cy="521.39" r="2.1" fill="#C5E3BE" stroke="#2F943A" stroke-width="0.9"/>
<circle cx="338.34" cy="483.79" r="2.1" fill="#C5E3BE" stroke="#2F943A" stroke-width="0.9"/>
<line x1="366.5" y1="383.1" x2="384.0" y2="383.1" stroke="#F3C990" stroke-width="1.67"/>
<g transform="translate(0,0)"><path d="M375.25,380.80 L377.55,384.90 L372.95,384.90 Z" fill="none" stroke="#E99A6C" stroke-width="0.8"/></g>
<text transform="translate(385.50,385.50) scale(1.03,1)" text-anchor="start" font-family='"Liberation Sans", sans-serif' font-size="7.0" fill="#5E5E5E" >paddy</text>
<line x1="366.5" y1="402.8" x2="384.0" y2="402.8" stroke="#CB9E45" stroke-width="1.72"/>
<g transform="translate(0,0)"><path d="M372.85,400.40 L377.65,405.20 M377.65,400.40 L372.85,405.20" stroke="#857258" stroke-width="0.9"/></g>
<text transform="translate(385.50,405.20) scale(1.03,1)" text-anchor="start" font-family='"Liberation Sans", sans-serif' font-size="7.0" fill="#5E5E5E" >field</text>
<line x1="366.5" y1="422.4" x2="384.0" y2="422.4" stroke="#D87233" stroke-width="1.72"/>
<g transform="translate(0,0)"><path d="M373.05,420.20 L377.45,424.60 M377.45,420.20 L373.05,424.60 M375.25,419.80 L375.25,425.00" stroke="#D06633" stroke-width="0.8"/></g>
<text transform="translate(385.50,424.80) scale(1.03,1)" text-anchor="start" font-family='"Liberation Sans", sans-serif' font-size="7.0" fill="#5E5E5E" >hillside field</text>
<line x1="366.5" y1="442.0" x2="384.0" y2="442.0" stroke="#9ACB5A" stroke-width="1.72"/>
<g transform="translate(0,0)"><rect x="373.15" y="439.90" width="4.2" height="4.2" fill="none" stroke="#6AAE4E" stroke-width="0.9"/></g>
<text transform="translate(385.50,444.40) scale(1.03,1)" text-anchor="start" font-family='"Liberation Sans", sans-serif' font-size="7.0" fill="#5E5E5E" >unstocked forest</text>
<line x1="366.5" y1="461.7" x2="384.0" y2="461.7" stroke="#1D7635" stroke-width="1.95"/>
<g transform="translate(0,0)"><path d="M375.25,459.70 L377.25,461.70 L375.25,463.70 L373.25,461.70 Z" fill="#7BA886" stroke="#4F8F5E" stroke-width="0.6"/></g>
<text transform="translate(385.50,464.10) scale(1.03,1)" text-anchor="start" font-family='"Liberation Sans", sans-serif' font-size="7.0" fill="#5E5E5E" >forest</text>
<line x1="366.5" y1="481.8" x2="384.0" y2="481.8" stroke="#4C8735" stroke-width="1.67"/>
<g transform="translate(0,0)"><circle cx="375.25" cy="481.80" r="2.1" fill="#C5E3BE" stroke="#2F943A" stroke-width="0.9"/></g>
<text transform="translate(385.50,484.20) scale(1.03,1)" text-anchor="start" font-family='"Liberation Sans", sans-serif' font-size="7.0" fill="#5E5E5E" >plateau vegetation</text>
</svg></div>
</body></html>
